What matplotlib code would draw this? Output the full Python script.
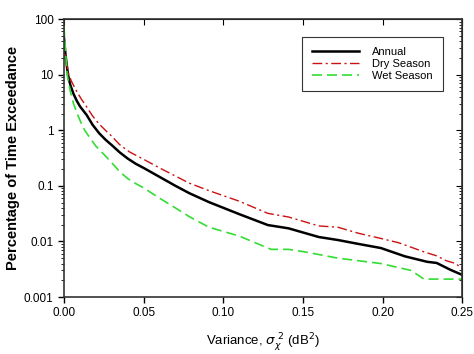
import numpy as np
import matplotlib
matplotlib.use("Agg")
import matplotlib.pyplot as plt
from matplotlib.ticker import LogLocator, NullFormatter

plt.rcParams['font.family'] = ['Liberation Sans', 'DejaVu Sans']

# Werte (Varianz in dB^2, Anteil in %)
annual_x = [0.0, 0.001, 0.0025, 0.004, 0.006, 0.008, 0.01, 0.0143, 0.018, 0.022,
            0.026, 0.03, 0.035, 0.04, 0.045, 0.05, 0.06, 0.07, 0.0786, 0.091,
            0.11, 0.128, 0.141, 0.16, 0.172, 0.185, 0.199, 0.214, 0.228, 0.234,
            0.2425, 0.25]
annual_y = [46, 22, 10, 6.5, 4.5, 3.4, 2.7, 1.87, 1.25, 0.89,
            0.68, 0.54, 0.4, 0.31, 0.25, 0.21, 0.145, 0.1, 0.074, 0.051,
            0.031, 0.0197, 0.0172, 0.012, 0.0106, 0.009, 0.0076, 0.0054, 0.0043, 0.0041,
            0.0031, 0.0025]

dry_x = [0.0, 0.001, 0.003, 0.005, 0.008, 0.011, 0.014, 0.018, 0.022, 0.026,
         0.03, 0.035, 0.041, 0.05, 0.06, 0.07, 0.0786, 0.091, 0.11, 0.128,
         0.141, 0.16, 0.172, 0.185, 0.199, 0.21, 0.226, 0.234, 0.24, 0.246, 0.25]
dry_y = [40, 20, 10, 7.3, 5.0, 3.6, 2.7, 1.8, 1.3, 1.0,
         0.78, 0.55, 0.41, 0.3, 0.21, 0.15, 0.112, 0.082, 0.053, 0.032,
         0.0275, 0.019, 0.018, 0.014, 0.0113, 0.0095, 0.0065, 0.0055, 0.0045, 0.004, 0.0032]

wet_x = [0.0, 0.001, 0.002, 0.004, 0.006, 0.0087, 0.011, 0.013, 0.016, 0.02,
         0.025, 0.03, 0.035, 0.04, 0.045, 0.05, 0.06, 0.07, 0.0786, 0.091,
         0.11, 0.13, 0.141, 0.151, 0.172, 0.199, 0.218, 0.226, 0.25]
wet_y = [75, 25, 10, 5, 3, 1.87, 1.3, 1.0, 0.75, 0.52,
         0.37, 0.26, 0.18, 0.135, 0.11, 0.092, 0.06, 0.04, 0.028, 0.018,
         0.0125, 0.0072, 0.0072, 0.0065, 0.005, 0.004, 0.003, 0.0021, 0.0021]

x_ticks = [0.0, 0.05, 0.10, 0.15, 0.20, 0.25]
x_tick_labels = ["0.00", "0.05", "0.10", "0.15", "0.20", "0.25"]
y_ticks = [0.001, 0.01, 0.1, 1, 10, 100]
y_tick_labels = ["0.001", "0.01", "0.1", "1", "10", "100"]

fig = plt.figure(figsize=(4.74, 3.54), dpi=100)
ax = fig.add_axes([0.135, 0.161, 0.84, 0.785])

ax.plot(annual_x, annual_y, color="black", lw=1.8, label="Annual")
ax.plot(dry_x, dry_y, color="#cc1111", lw=1.0, dashes=(7, 2.5, 1.5, 2.5), label="Dry Season")
ax.plot(wet_x, wet_y, color="#33dd33", lw=1.2, dashes=(6, 3), label="Wet Season")

ax.set_yscale("log")
ax.set_xlim(0, 0.25)
ax.set_ylim(0.001, 100)
ax.set_xticks(x_ticks)
ax.set_xticklabels(x_tick_labels, fontsize=8.5)
ax.set_yticks(y_ticks)
ax.set_yticklabels(y_tick_labels, fontsize=8.5)
ax.yaxis.set_minor_locator(LogLocator(base=10, subs=np.arange(2, 10)))
ax.yaxis.set_minor_formatter(NullFormatter())

ax.tick_params(which="both", direction="out", top=False, right=False)
ax.tick_params(which="major", length=4, width=1)
ax.tick_params(which="minor", length=2, width=0.6)

# Innenliegende Striche oben und rechts
ax_top = ax.secondary_xaxis("top")
ax_top.set_xticks(x_ticks)
ax_top.tick_params(direction="in", length=4, labeltop=False)
ax_right = ax.secondary_yaxis("right")
ax_right.set_yticks(y_ticks)
ax_right.yaxis.set_minor_locator(LogLocator(base=10, subs=np.arange(2, 10)))
ax_right.yaxis.set_minor_formatter(NullFormatter())
ax_right.tick_params(which="both", direction="in", labelright=False)
ax_right.tick_params(which="major", length=4)
ax_right.tick_params(which="minor", length=2, width=0.6)

for sp in ax.spines.values():
    sp.set_linewidth(1.2)
    sp.set_color("#333333")

ax.set_xlabel(r"Variance, $\sigma_{\chi}^{\ 2}$ (dB$^2$)", fontsize=9.5, labelpad=8)
ax.set_ylabel("Percentage of Time Exceedance", fontsize=10.5, fontweight="bold", labelpad=3)

leg = ax.legend(loc="upper right", bbox_to_anchor=(0.965, 0.955), fontsize=8,
                frameon=True, fancybox=False, edgecolor="black", handlelength=4.2,
                borderpad=0.9, labelspacing=0.15, handletextpad=1.2)
leg.get_frame().set_linewidth(0.8)

fig.savefig("out.png", dpi=100)
